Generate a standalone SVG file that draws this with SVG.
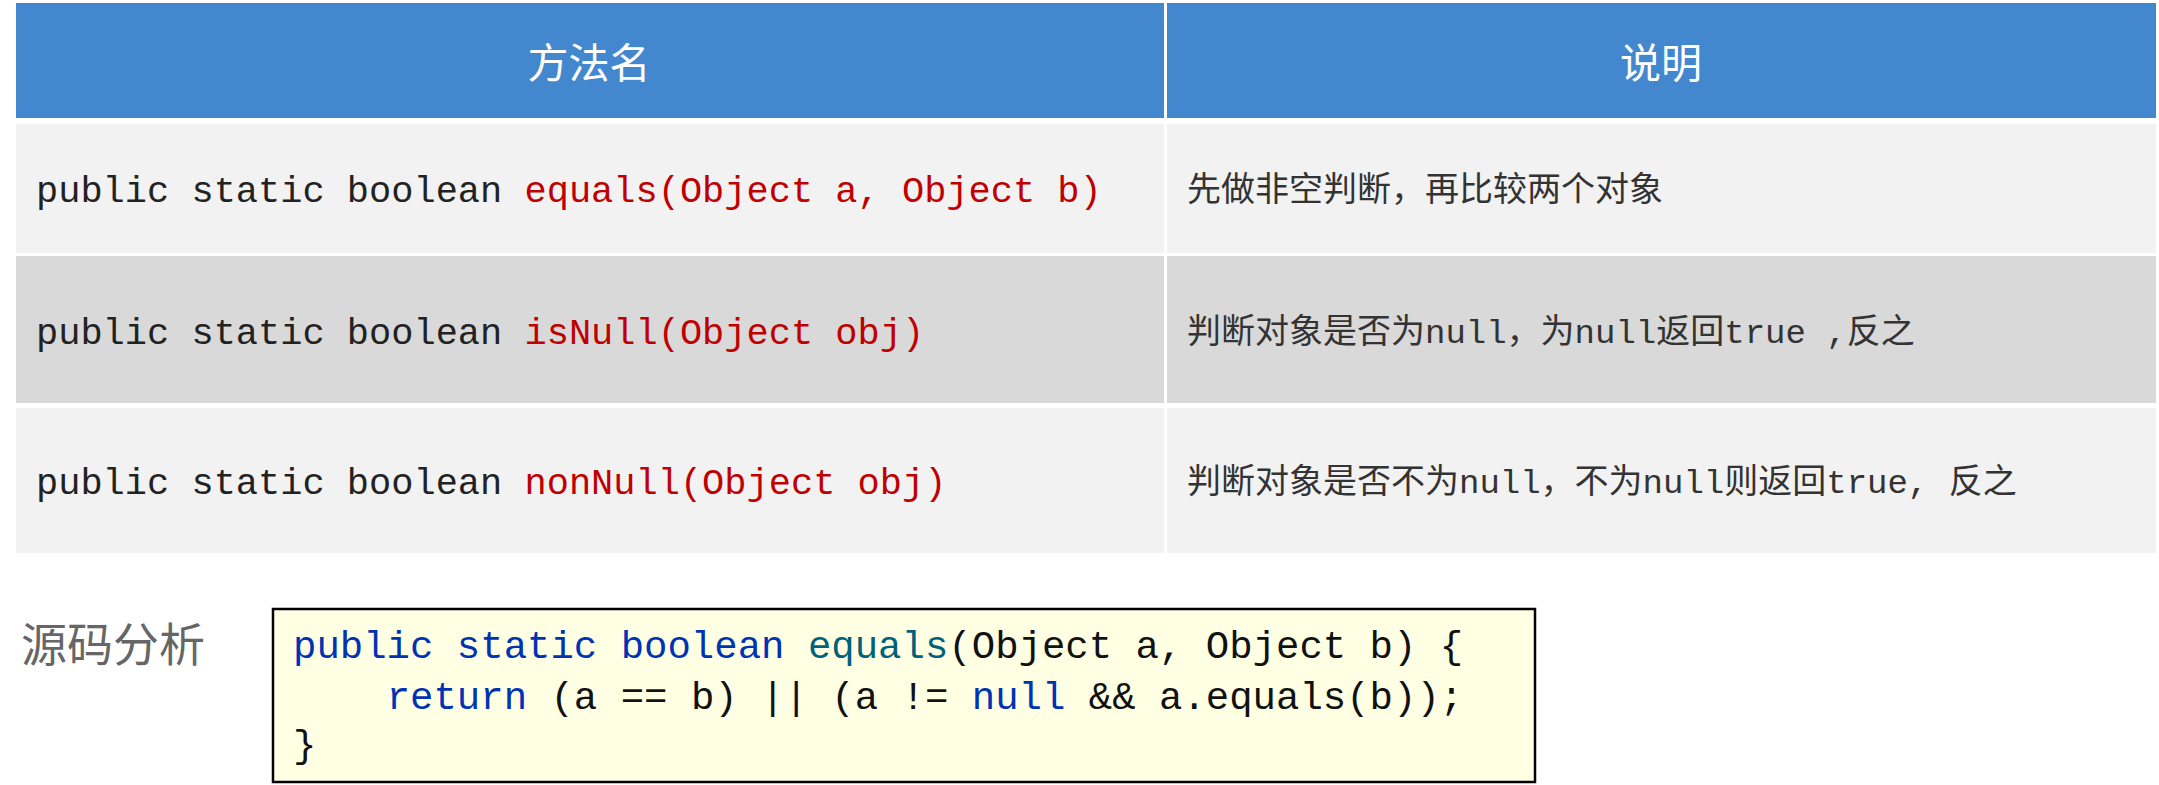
<svg xmlns="http://www.w3.org/2000/svg" width="2159" height="785" viewBox="0 0 2159 785">
<style>
.h{font-family:"Noto Sans CJK SC",sans-serif;font-size:41px;fill:#fff;text-anchor:middle}
.m{font-family:"Liberation Mono","DejaVu Sans Mono",monospace;font-size:37px;fill:#222}
.r{fill:#c00000}
.d{font-family:"Liberation Mono","Noto Sans CJK SC",monospace;font-size:34px;fill:#333}
.c{font-family:"Liberation Mono","DejaVu Sans Mono",monospace;font-size:39px;fill:#111;white-space:pre}
.k{fill:#0033b3}.t{fill:#00627a}
</style>
<g id="header">
<rect x="16" y="3" width="1148" height="115" fill="#4388cf"/>
<rect x="1167" y="3" width="989" height="115" fill="#4388cf"/>
<text class="h" x="589" y="78">方法名</text>
<text class="h" x="1661" y="78">说明</text>
</g>
<g id="row1">
<rect x="16" y="124" width="1148" height="129" fill="#f2f2f2"/>
<rect x="1167" y="124" width="989" height="129" fill="#f2f2f2"/>
<text class="m" x="36" y="202">public static boolean <tspan class="r">equals(Object a, Object b)</tspan></text>
<text class="d" x="1187" y="201">先做非空判断，再比较两个对象</text>
</g>
<g id="row2">
<rect x="16" y="256" width="1148" height="147" fill="#d9d9d9"/>
<rect x="1167" y="256" width="989" height="147" fill="#d9d9d9"/>
<text class="m" x="36" y="344">public static boolean <tspan class="r">isNull(Object obj)</tspan></text>
<text class="d" x="1187" y="343">判断对象是否为null，为null返回true ,反之</text>
</g>
<g id="row3">
<rect x="16" y="408" width="1148" height="145" fill="#f2f2f2"/>
<rect x="1167" y="408" width="989" height="145" fill="#f2f2f2"/>
<text class="m" x="36" y="494">public static boolean <tspan class="r">nonNull(Object obj)</tspan></text>
<text class="d" x="1187" y="493">判断对象是否不为null，不为null则返回true, 反之</text>
</g>
<g id="label">
<text x="21" y="661" font-family="Noto Sans CJK SC,sans-serif" font-size="46" fill="#666">源码分析</text>
</g>
<g id="code">
<rect x="273" y="609" width="1262" height="173" fill="#ffffe3" stroke="#000" stroke-width="2.5"/>
<text class="c" x="293" y="658"><tspan class="k">public static boolean</tspan> <tspan class="t">equals</tspan>(Object a, Object b) {</text>
<text class="c" x="293" y="709">    <tspan class="k">return</tspan> (a == b) || (a != <tspan class="k">null</tspan> &amp;&amp; a.equals(b));</text>
<text class="c" x="293" y="757">}</text>
</g>
</svg>
